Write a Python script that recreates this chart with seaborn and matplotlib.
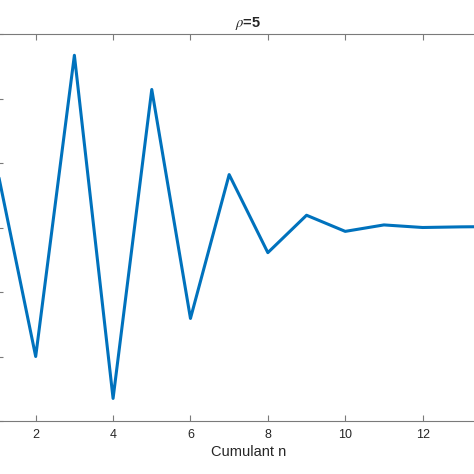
import numpy as np
import pandas as pd
import seaborn as sns
import matplotlib
matplotlib.use("Agg")
from matplotlib import pyplot as plt

# cumulant index and its (scaled) value
cumulant_n = [1, 2, 3, 4, 5, 6, 7, 8, 9, 10, 11, 12, 13, 14]
cumulant_val = [0.92, -2.00, 2.67, -2.65, 2.14, -1.41, 0.82, -0.39,
                0.19, -0.06, 0.04, 0.00, 0.01, 0.015]
x_ticks = [2, 4, 6, 8, 10, 12]
y_ticks = [-3, -2, -1, 0, 1, 2, 3]

df = pd.DataFrame({"n": cumulant_n, "value": cumulant_val})

sns.set_theme(style="ticks")
plt.rcParams['font.family'] = ['Liberation Sans', 'DejaVu Sans']
plt.rcParams['mathtext.fontset'] = 'stix'

fig = plt.figure(figsize=(4.74, 4.74), dpi=100)
# axes run past the left/right edges like the cropped original
ax = fig.add_axes([-3 / 474, 53 / 474, 503 / 474, 387 / 474])

sns.lineplot(data=df, x="n", y="value", ax=ax, color="#0072BD", linewidth=2.2)

ax.set_xlim(1, 14)
ax.set_ylim(-3, 3)
ax.set_xticks(x_ticks)
ax.set_yticks(y_ticks)
ax.tick_params(direction="in", length=4, width=0.8, color="#7a7a7a",
               labelcolor="#262626", labelsize=9, top=True, right=True,
               labelleft=False)
ax.tick_params(axis="x", pad=6)
for side in ax.spines.values():
    side.set_color("#7a7a7a")
    side.set_linewidth(0.8)

ax.set_xlabel("Cumulant n", fontsize=10.5, color="#262626", labelpad=3)
ax.set_ylabel("")
ax.set_title(r"$\rho$=5", fontsize=10.5, fontweight="bold", pad=5)

fig.savefig("out.png", dpi=100)
